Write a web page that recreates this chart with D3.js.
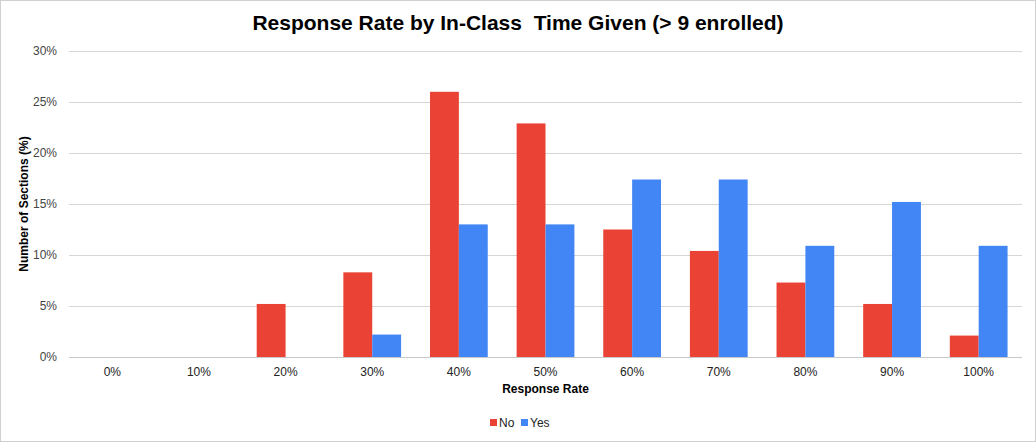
<!DOCTYPE html>
<html>
<head>
<meta charset="utf-8">
<script src="https://cdn.jsdelivr.net/npm/d3@7"></script>
<style>
  body { margin: 0; background: #fff; }
  text { font-family: "Liberation Sans", Arial, sans-serif; }
</style>
</head>
<body>
<div id="chart-area"></div>
<script>
// response rate buckets and % of sections in each
let categories = ["0%", "10%", "20%", "30%", "40%", "50%", "60%", "70%", "80%", "90%", "100%"];
let noValues = [0, 0, 5.2, 8.3, 26.0, 22.9, 12.5, 10.4, 7.3, 5.2, 2.1];
let yesValues = [0, 0, 0, 2.2, 13.0, 13.0, 17.4, 17.4, 10.9, 15.2, 10.9];
let seriesNames = ["No", "Yes"];
let yTicks = [0, 5, 10, 15, 20, 25, 30];

let colors = {No: "#ea4335", Yes: "#4285f4"};

let W = 1036, H = 442;
let margin = {top: 51, right: 14, bottom: 85, left: 69};
let width = W - margin.left - margin.right,
    height = H - margin.top - margin.bottom;

let root = d3.select("#chart-area").append("svg")
    .attr("width", W)
    .attr("height", H);

// outer border
root.append("rect")
    .attr("x", 0.5).attr("y", 0.5)
    .attr("width", W - 1).attr("height", H - 1)
    .attr("fill", "#fff")
    .attr("stroke", "#d0d0d0");

let svg = root.append("g")
    .attr("transform", "translate(" + margin.left + "," + margin.top + ")");

// Scales
let x = d3.scaleBand()
    .domain(categories)
    .range([0, width])
    .paddingInner(0)
    .paddingOuter(0);

let x1 = d3.scaleBand()
    .domain(seriesNames)
    .range([x.bandwidth() / 6, x.bandwidth() * 5 / 6]);

let y = d3.scaleLinear()
    .domain([0, 30])
    .range([height, 0]);

// gridlines
svg.append("g")
    .attr("class", "grid")
    .call(d3.axisLeft(y).tickValues(yTicks).tickSize(-width).tickFormat(""))
    .call(g => g.select(".domain").remove())
    .call(g => g.selectAll("line").attr("stroke", "#d6d6d6"));

// y axis labels
svg.append("g")
    .attr("class", "y-axis")
    .call(d3.axisLeft(y).tickValues(yTicks).tickSize(0).tickPadding(12).tickFormat(d => d + "%"))
    .call(g => g.select(".domain").remove())
    .call(g => g.selectAll("text")
        .attr("fill", "#444")
        .style("font-size", "12px")
        .style("font-family", "'Liberation Sans', Arial, sans-serif"));

let data = categories.map((c, i) => ({cat: c, No: noValues[i], Yes: yesValues[i]}));

let groups = svg.selectAll(".group")
    .data(data)
    .enter().append("g")
    .attr("class", "group")
    .attr("transform", d => "translate(" + x(d.cat) + ",0)");

groups.selectAll("rect")
    .data(d => seriesNames.map(s => ({key: s, value: d[s]})))
    .enter().append("rect")
    .attr("x", d => x1(d.key))
    .attr("width", x1.bandwidth())
    .attr("y", d => y(d.value))
    .attr("height", d => height - y(d.value))
    .attr("fill", d => colors[d.key]);

// baseline
svg.append("line")
    .attr("x1", 0).attr("x2", width)
    .attr("y1", height + 0.5).attr("y2", height + 0.5)
    .attr("stroke", "#c8c8c8");

// x axis
svg.append("g")
    .attr("class", "x-axis")
    .attr("transform", "translate(0," + height + ")")
    .call(d3.axisBottom(x).tickSize(0).tickPadding(10))
    .call(g => g.select(".domain").remove())
    .call(g => g.selectAll("text")
        .attr("fill", "#222")
        .style("font-size", "12px")
        .style("font-family", "'Liberation Sans', Arial, sans-serif"));

// title (the double space is in the original)
root.append("text")
    .attr("x", W / 2)
    .attr("y", 30)
    .attr("text-anchor", "middle")
    .style("font-size", "21px")
    .style("font-weight", "bold")
    .style("white-space", "pre")
    .attr("fill", "#000")
    .text("Response Rate by In-Class  Time Given (> 9 enrolled)");

// axis titles
root.append("text")
    .attr("x", margin.left + width / 2)
    .attr("y", 393)
    .attr("text-anchor", "middle")
    .style("font-size", "12px")
    .style("font-weight", "bold")
    .attr("fill", "#000")
    .text("Response Rate");

root.append("text")
    .attr("transform", "translate(28," + (margin.top + height / 2) + ") rotate(-90)")
    .attr("text-anchor", "middle")
    .style("font-size", "12px")
    .style("font-weight", "bold")
    .attr("fill", "#000")
    .text("Number of Sections (%)");

// legend
let legend = root.append("g")
    .attr("transform", "translate(490,423)");

let legendX = [0, 31];
seriesNames.forEach((s, i) => {
    legend.append("rect")
        .attr("x", legendX[i])
        .attr("y", -4)
        .attr("width", 7)
        .attr("height", 7)
        .attr("fill", colors[s]);
    legend.append("text")
        .attr("x", legendX[i] + 9)
        .attr("y", 4)
        .style("font-size", "12px")
        .attr("fill", "#222")
        .text(s);
});
</script>
</body>
</html>
